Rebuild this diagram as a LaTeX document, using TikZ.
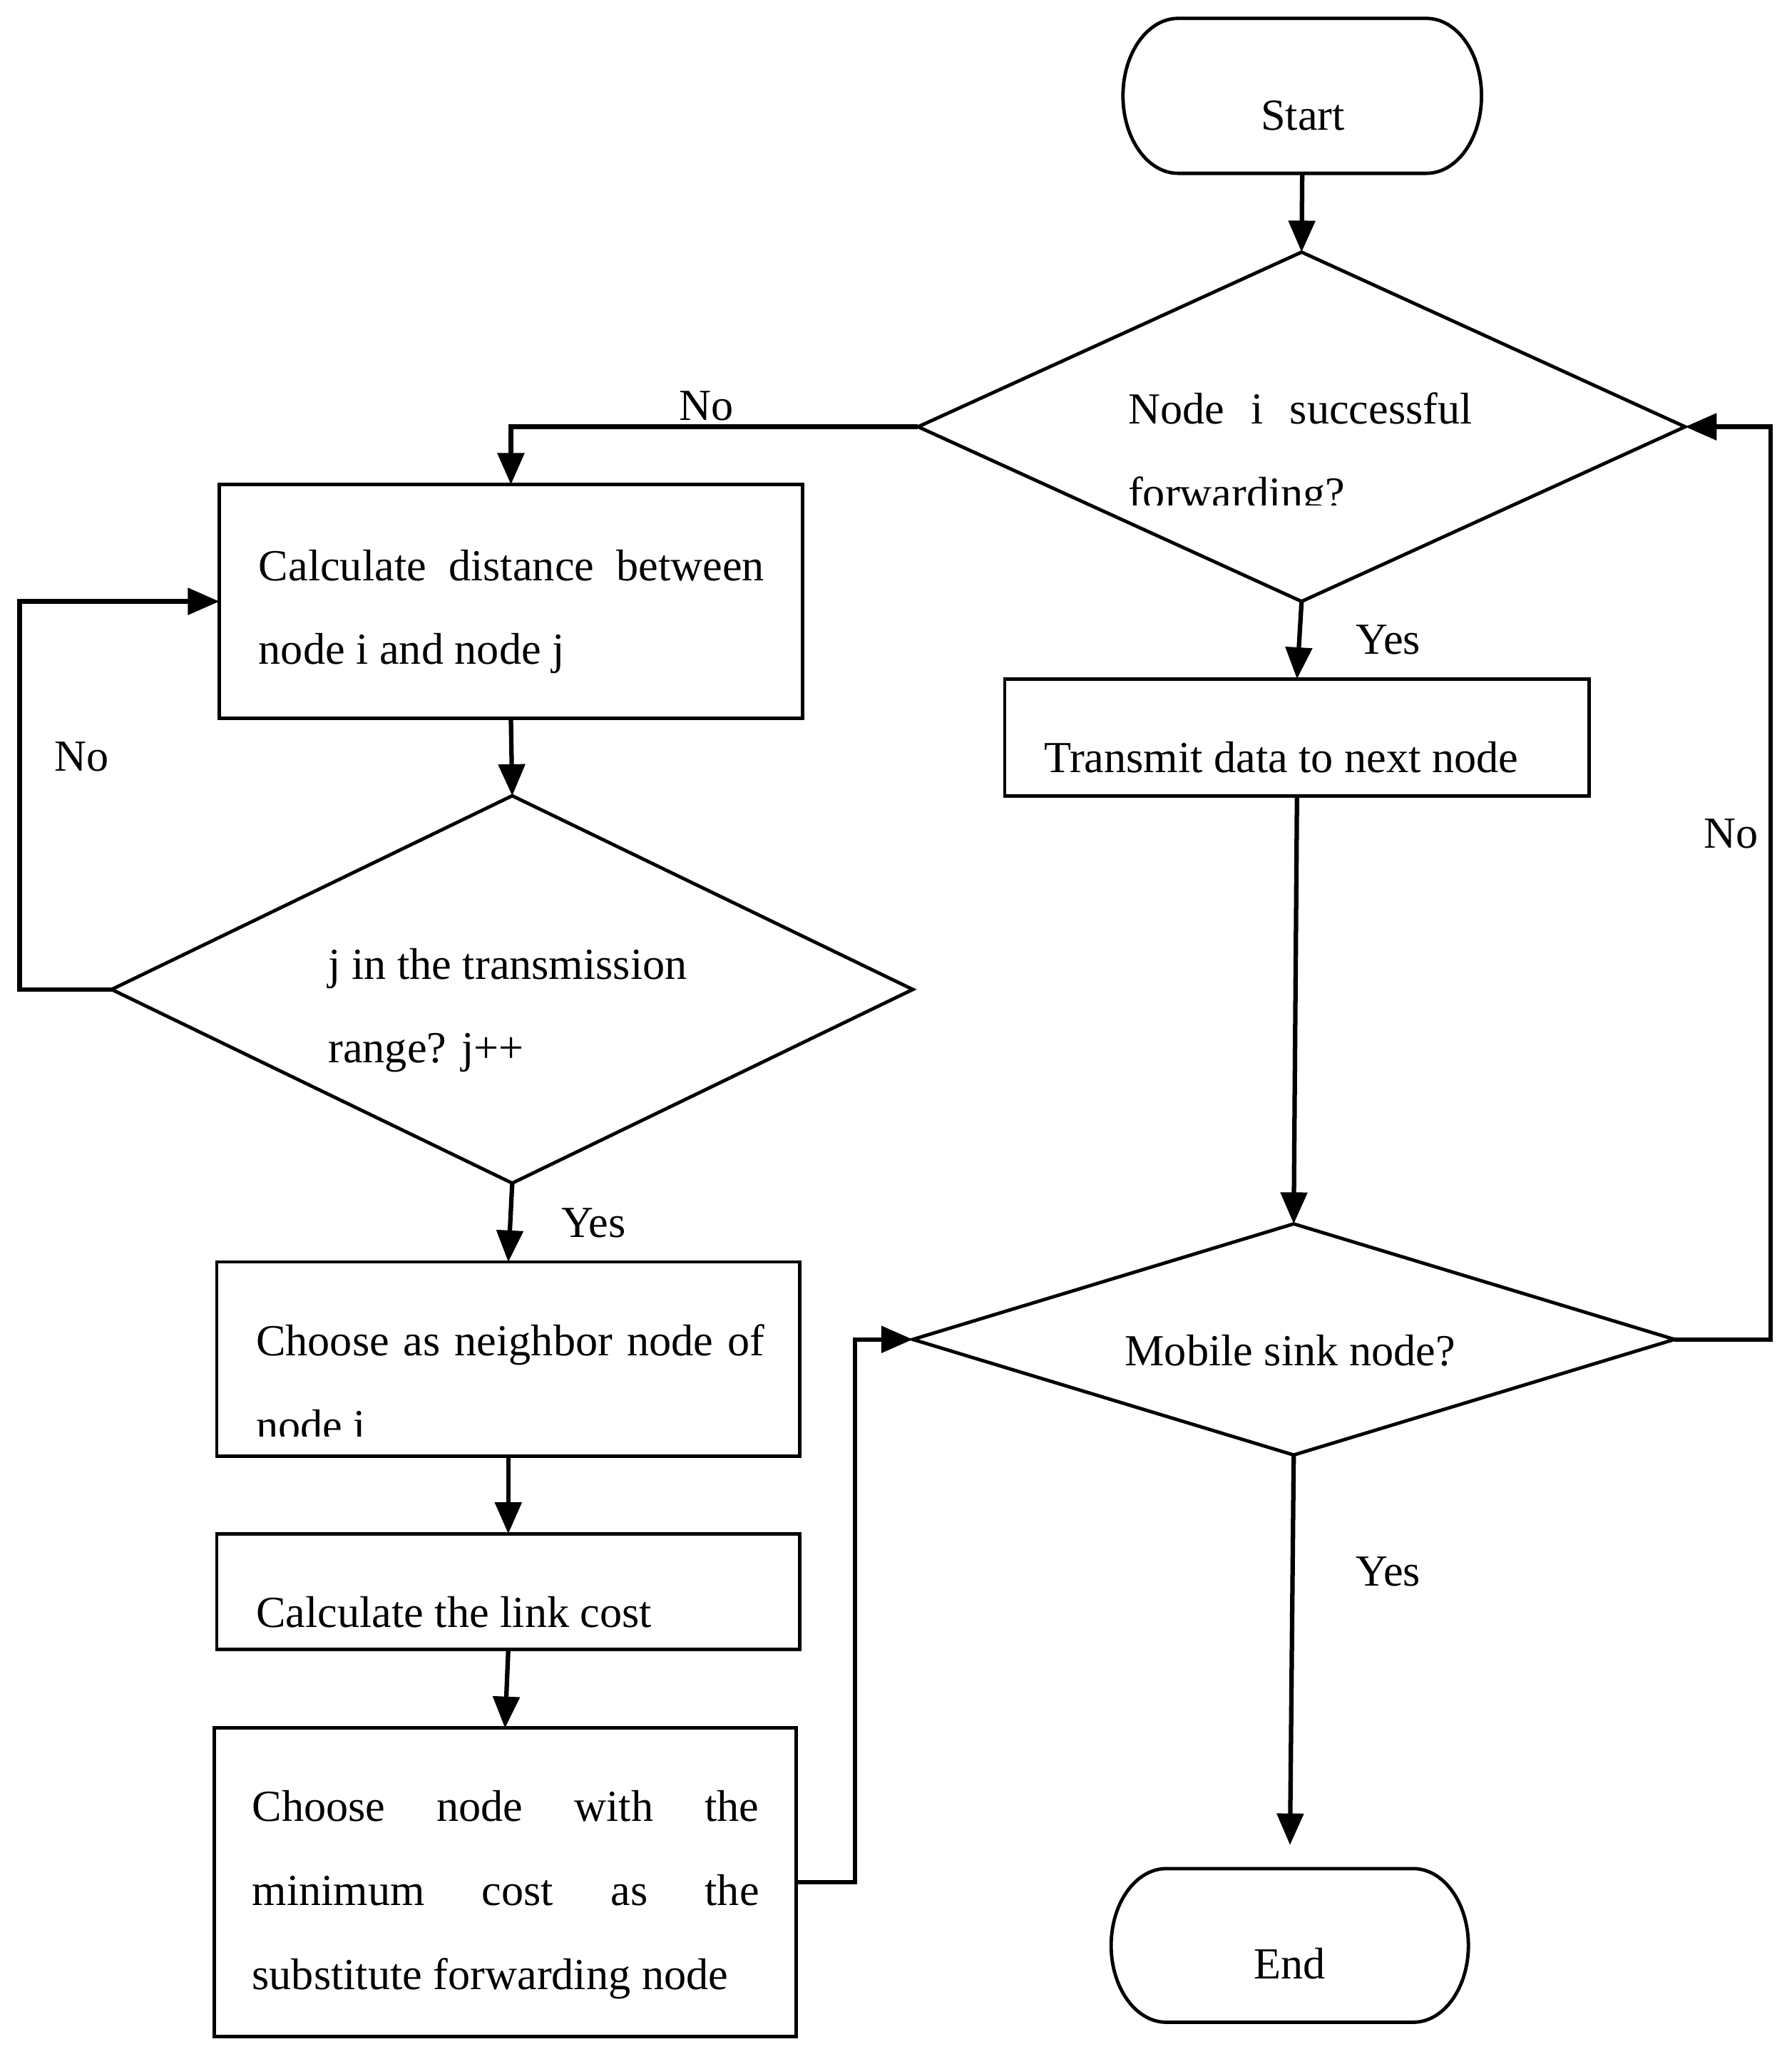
\documentclass[tikz,border=0pt]{standalone}
\usepackage{fontspec}
\setmainfont{Liberation Serif}
\usetikzlibrary{shapes.geometric,arrows.meta,calc}
\newcommand\drawterminal[2]{\draw[boxline, line join=round] (#1.north) -- ($(#1.north east)+(-21pt,0)$) arc[start angle=90,end angle=-90,x radius=21pt,y radius=#2] -- ($(#1.south west)+(21pt,0)$) arc[start angle=270,end angle=90,x radius=21pt,y radius=#2] -- cycle;}
\begin{document}
\begin{tikzpicture}[x=0.5pt,y=-0.5pt,
  boxline/.style={line width=1.3pt},
  procbox/.style={boxline, draw, rectangle, inner sep=0pt, outer sep=0pt},
  decbox/.style={boxline, draw, diamond, inner sep=0pt, outer sep=0pt},
  termbox/.style={rectangle, inner sep=0pt, outer sep=0pt},
  txt/.style={inner sep=0pt, outer sep=0pt, anchor=base west, font=\fontsize{16.9pt}{20pt}\selectfont},
  lbl/.style={inner sep=0pt, outer sep=0pt, anchor=base, font=\fontsize{16.9pt}{20pt}\selectfont},
  flow/.style={line width=1.7pt, -{Triangle[length=12pt,width=10pt]}},
  plain/.style={line width=1.7pt}]
\useasboundingbox (0,0) rectangle (1364,1568);

% shapes
\node[termbox, minimum width=136.5pt, minimum height=59pt] (start) at (991.5,73) {};
\drawterminal{start}{29.5pt}
\node[decbox, minimum width=292pt, minimum height=133pt] (d1) at (991,325) {};
\node[procbox, minimum width=222pt, minimum height=89pt] (box1) at (389,458) {};
\node[decbox, minimum width=305pt, minimum height=147.5pt] (d2) at (390,753.5) {};
\node[procbox, minimum width=222pt, minimum height=74pt] (box2) at (387,1035) {};
\node[procbox, minimum width=222pt, minimum height=44pt] (box3) at (387,1212) {};
\node[procbox, minimum width=221.5pt, minimum height=117.5pt] (box4) at (384.5,1433.5) {};
\node[procbox, minimum width=222.5pt, minimum height=44.5pt] (trans) at (987.5,561.5) {};
\node[decbox, minimum width=290pt, minimum height=88pt] (d3) at (985,1020) {};
\node[termbox, minimum width=136pt, minimum height=58.5pt] (end) at (982,1481.5) {};
\drawterminal{end}{29.25pt}

% texts
\node[lbl] (starttxt) at (992,99) {Start};
\node[lbl] (endtxt) at (982,1507) {End};
\node[txt] (d1a) at (859,323) {\makebox[131pt][s]{Node i successful}};
\begin{scope}
\clip (0,0) rectangle (1364,384.6);
\node[txt] (d1b) at (859,387) {forwarding?};
\end{scope}
\node[txt] (b1a) at (197,442) {\makebox[192.5pt][s]{Calculate distance between}};
\node[txt] (b1b) at (197,506) {node i and node j};
\node[txt] (d2a) at (250,745.5) {j in the transmission};
\node[txt] (d2b) at (250,809.5) {range? j++};
\node[txt] (b2a) at (195,1032.6) {\makebox[193.5pt][s]{Choose as neighbor node of}};
\begin{scope}
\clip (0,1000) rectangle (1364,1094);
\node[txt] (b2b) at (195,1097) {node i};
\end{scope}
\node[txt] (b3a) at (195,1239) {Calculate the link cost};
\node[txt] (b4a) at (192,1387) {\makebox[193pt][s]{Choose node with the}};
\node[txt] (b4b) at (192,1451) {\makebox[193pt][s]{minimum cost as the}};
\node[txt] (b4c) at (192,1515) {substitute forwarding node};
\node[txt] (tra) at (795,588) {Transmit data to next node};
\node[txt] (d3a) at (856.5,1040) {Mobile sink node?};

% labels
\node[lbl] (no1) at (538,320) {No};
\node[lbl] (no2) at (62,587) {No};
\node[lbl] (yes1) at (452,942) {Yes};
\node[lbl] (yes2) at (1057,498) {Yes};
\node[lbl] (no3) at (1318,646) {No};
\node[lbl] (yes3) at (1057,1208) {Yes};

% helper coordinates
\coordinate (lx) at (15,0);
\coordinate (jx) at (651,0);
\coordinate (rx) at (1348,0);

% connectors
\draw[flow] (start.south) -- (d1.north);
\draw[flow] (d1.west) -| (box1.north);
\draw[flow] (box1.south) -- (d2.north);
\draw[flow] (d2.west) -- (d2.west -| lx) |- (box1.west);
\draw[flow] (d2.south) -- (box2.north);
\draw[flow] (box2.south) -- (box3.north);
\draw[flow] (box3.south) -- (box4.north);
\draw[flow] (box4.east) -- (box4.east -| jx) |- (d3.west);
\draw[flow] (d1.south) -- (trans.north);
\draw[flow] (trans.south) -- (d3.north);
\draw[flow] (d3.east) -- (d3.east -| rx) |- (d1.east);
\draw[flow, shorten >=9pt] (d3.south) -- (end.north);
\end{tikzpicture}
\end{document}
